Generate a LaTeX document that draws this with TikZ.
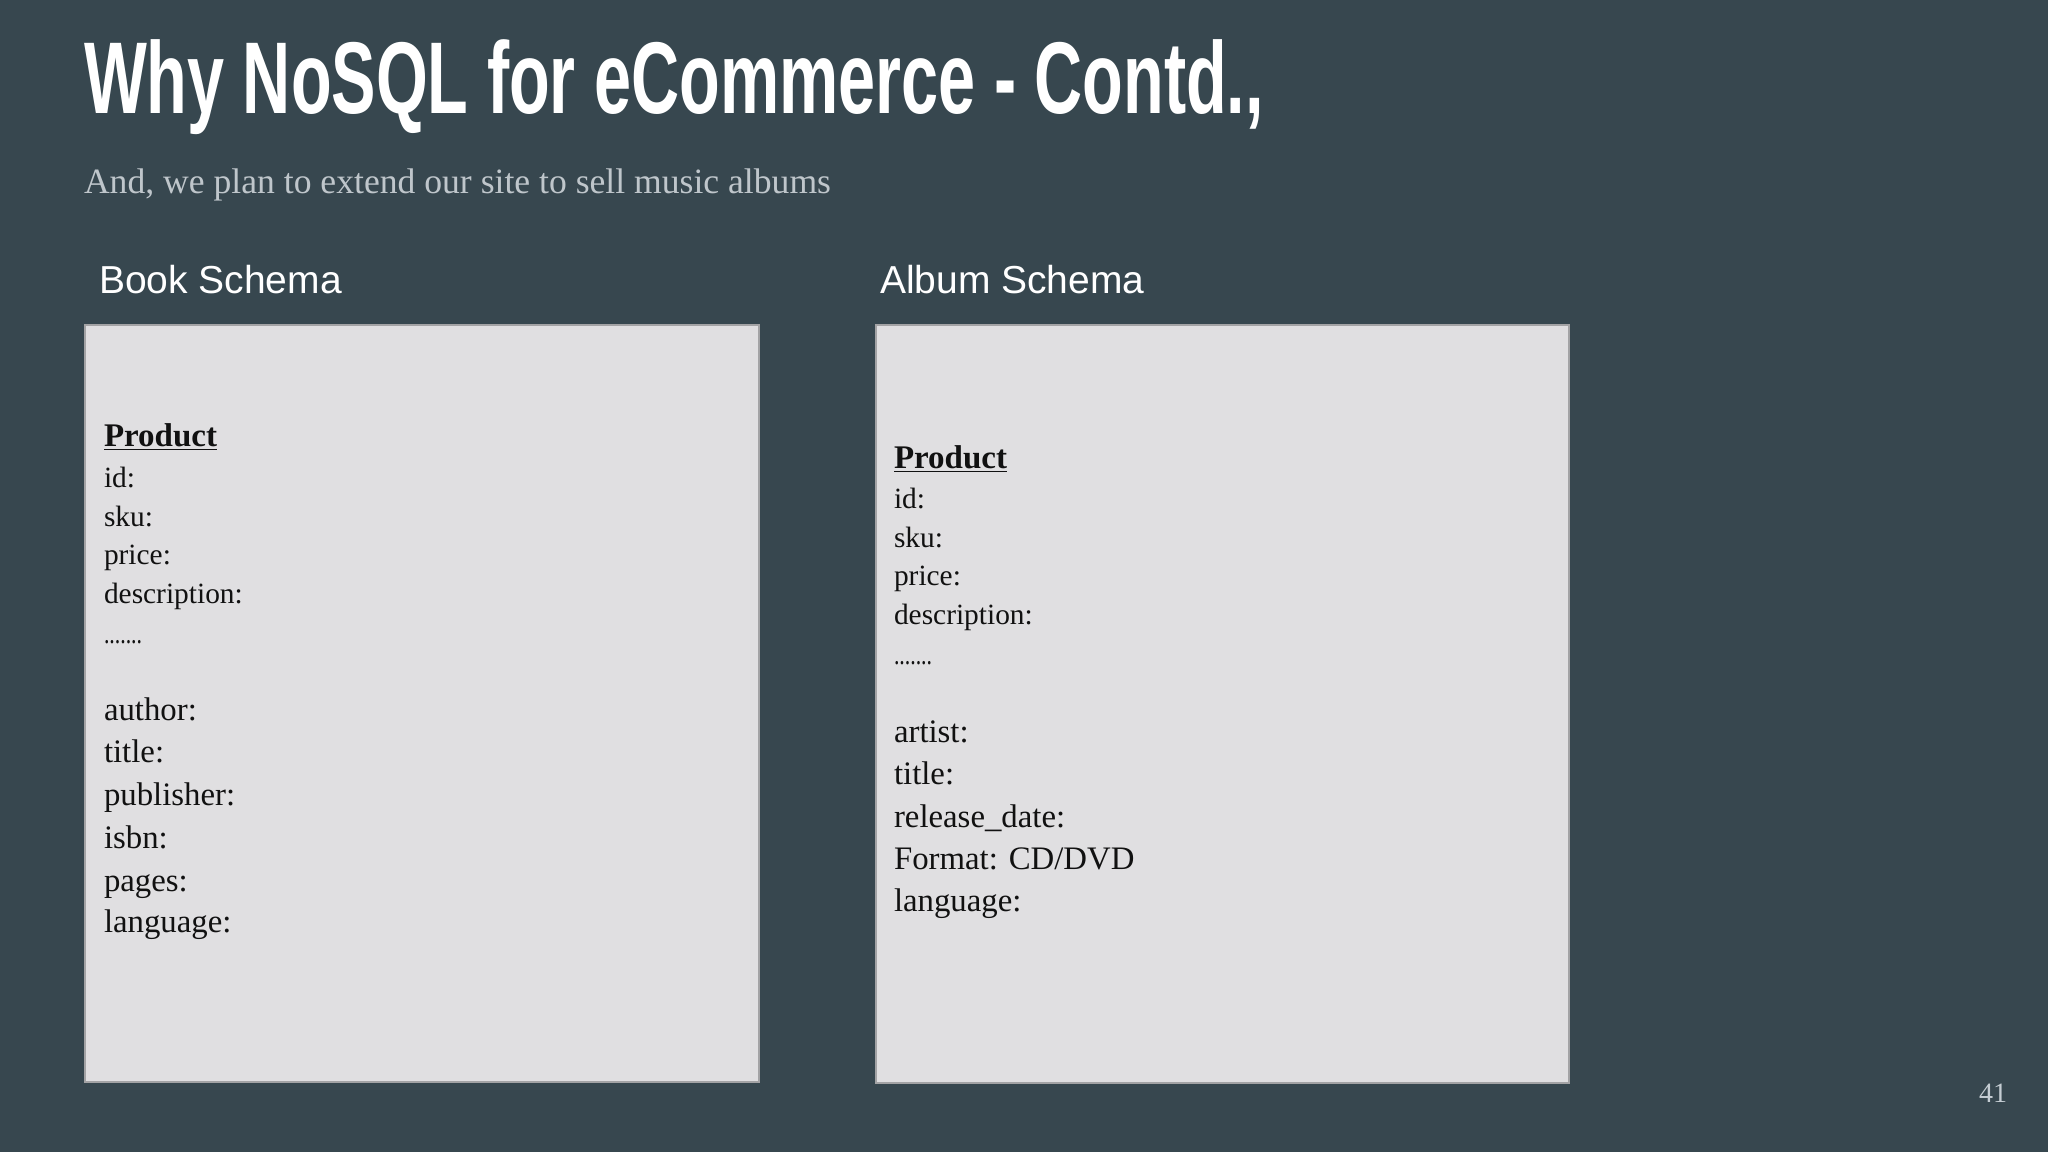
\documentclass[tikz,border=0pt]{standalone}
\usepackage{fontspec}
\setmainfont{Liberation Serif}
\newfontfamily\sansf{Liberation Sans}
\usepackage{graphicx}
\definecolor{bg}{HTML}{37474F}
\definecolor{boxfill}{HTML}{E0DFE1}
\definecolor{boxline}{HTML}{A3A3A5}
\definecolor{ink}{HTML}{111111}
\definecolor{subgray}{HTML}{BFC6CB}
\definecolor{pagegray}{HTML}{C5CDD3}
\tikzset{
  lbl/.style={anchor=base west, inner sep=0pt, outer sep=0pt},
  fieldA/.style={lbl, text=ink, font=\fontsize{14.7}{17}\selectfont},
  fieldB/.style={lbl, text=ink, font=\fontsize{16.4}{19}\selectfont},
  prodhead/.style={lbl, text=ink, font=\fontsize{16.5}{19}\selectfont\bfseries},
  schemahead/.style={lbl, text=white, font=\sansf\fontsize{19.5}{23}\selectfont},
  schemabox/.style={draw=boxline, line width=1pt, fill=boxfill, anchor=north west, inner sep=0pt},
}
\newcommand{\tightdots}{\scalebox{0.74}[1]{.......}}
\begin{document}
\begin{tikzpicture}[x=0.5pt,y=-0.5pt]
\fill[bg] (0,0) rectangle (2048,1152);
\useasboundingbox (0,0) rectangle (2048,1152);

% title and subtitle
\node[lbl, text=white] (title) at (84,113)
  {\resizebox{590pt}{\height}{\sansf\bfseries\fontsize{51}{60}\selectfont Why NoSQL for eCommerce - Contd.,}};
\node[lbl, text=subgray] (subtitle) at (84,193)
  {\resizebox{373.5pt}{!}{\fontsize{15}{18}\selectfont And, we plan to extend our site to sell music albums}};

% schema headings
\node[schemahead] (bookhead) at (99,293) {Book Schema};
\node[schemahead] (albumhead) at (880,293) {Album Schema};

% boxes
\node[schemabox, minimum width=337pt, minimum height=378.5pt] (bookbox) at (84,324) {};
\node[schemabox, minimum width=346.5pt, minimum height=379pt] (albumbox) at (875,324) {};

% book schema fields
\node[prodhead] (bprod) at (104,446) {\underline{Product}};
\node[fieldA] (bid) at (104,487) {id:};
\node[fieldA] (bsku) at (104,526) {sku:};
\node[fieldA] (bprice) at (104,564) {price:};
\node[fieldA] (bdesc) at (104,603) {description:};
\node[fieldA] (bdots) at (104,643) {\tightdots};
\node[fieldB] (bauthor) at (104,720) {author:};
\node[fieldB] (btitle) at (104,762) {title:};
\node[fieldB] (bpub) at (104,805) {publisher:};
\node[fieldB] (bisbn) at (104,848) {isbn:};
\node[fieldB] (bpages) at (104,891) {pages:};
\node[fieldB] (blang) at (104,932) {language:};

% album schema fields
\node[prodhead] (aprod) at (894,468) {\underline{Product}};
\node[fieldA] (aid) at (894,508) {id:};
\node[fieldA] (asku) at (894,547) {sku:};
\node[fieldA] (aprice) at (894,585) {price:};
\node[fieldA] (adesc) at (894,624) {description:};
\node[fieldA] (adots) at (894,664) {\tightdots};
\node[fieldB] (aartist) at (894,742) {artist:};
\node[fieldB] (atitle) at (894,784) {title:};
\node[fieldB] (arel) at (894,827) {release\_date:};
\node[fieldB] (aformat) at (894,869) {Format: CD/DVD};
\node[fieldB] (alang) at (894,911) {language:};

% page number
\node[lbl, text=pagegray, font=\fontsize{14}{16}\selectfont] (pagenum) at (1979,1102) {41};
\end{tikzpicture}
\end{document}
